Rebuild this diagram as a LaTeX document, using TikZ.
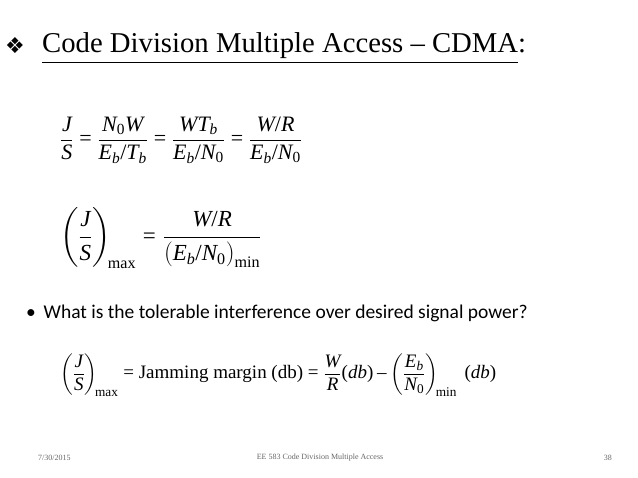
\documentclass[tikz,border=0pt]{standalone}
\usepackage{amsmath}
\usepackage[no-math]{fontspec}
\setmainfont{Liberation Serif}
\newfontfamily\calib{Carlito}
\newfontfamily\djv{DejaVu Sans}
\newcommand{\I}[1]{\text{\itshape #1}}
\newcommand{\R}[1]{\text{\upshape #1}}
\newcommand{\eqs}{\mathrel{\R{=}}}
\newcommand{\slh}{\mathord{\R{/}}}
\begin{document}
\begin{tikzpicture}[x=1pt,y=-1pt,
  txt/.style={inner sep=0pt,anchor=west,text=black}]
\useasboundingbox (0,0) rectangle (638,478);
\node[txt] (bul) at (5,46) {\fontsize{22}{24}\selectfont\djv ❖};
\node[txt] (title) at (42,48) {\fontsize{28.7}{32}\selectfont\underline{Code Division Multiple Access – CDMA}:};
\node[txt] (eq1) at (60,140) {\fontsize{22}{28}\selectfont$\displaystyle \frac{\I{J}}{\I{S}}\eqs\frac{\I{N}_{\R{0}}\I{W}}{\I{E}_{\I{b}}\slh\I{T}_{\I{b}}}\eqs\frac{\I{W}\I{T}_{\I{b}}}{\I{E}_{\I{b}}\slh\I{N}_{\R{0}}}\eqs\frac{\I{W}\slh\I{R}}{\I{E}_{\I{b}}\slh\I{N}_{\R{0}}}$};
\node[txt] (eq2) at (60,238) {\fontsize{23}{28}\selectfont$\displaystyle \left(\frac{\I{J}}{\I{S}}\right)_{\!\R{max}}\eqs\frac{\I{W}\slh\I{R}}{\left(\I{E}_{\I{b}}\slh\I{N}_{\R{0}}\right)_{\R{min}}}$};
\node[txt] (b2) at (26,313) {\fontsize{19.5}{22}\selectfont\calib •\hspace{0.4em}What is the tolerable interference over desired signal power?};
\node[txt] (eq3) at (60,375) {\fontsize{19}{24}\selectfont$\displaystyle \left(\frac{\I{J}}{\I{S}}\right)_{\!\R{max}}\eqs\R{Jamming margin (db)}\eqs\frac{\I{W}}{\I{R}}\R{(}\I{db}\R{)}\mathbin{\R{–}}\left(\frac{\I{E}_{\I{b}}}{\I{N}_{\R{0}}}\right)_{\!\R{min}}\;\R{(}\I{db}\R{)}$};
\node[txt] (date) at (38,458) {\fontsize{8}{10}\selectfont\color{black!60}7/30/2015};
\node[inner sep=0pt] (foot) at (320,458) {\fontsize{8}{10}\selectfont\color{black!60}EE 583 Code Division Multiple Access};
\node[inner sep=0pt,anchor=east] (pg) at (612,458) {\fontsize{8}{10}\selectfont\color{black!60}38};
\end{tikzpicture}
\end{document}
